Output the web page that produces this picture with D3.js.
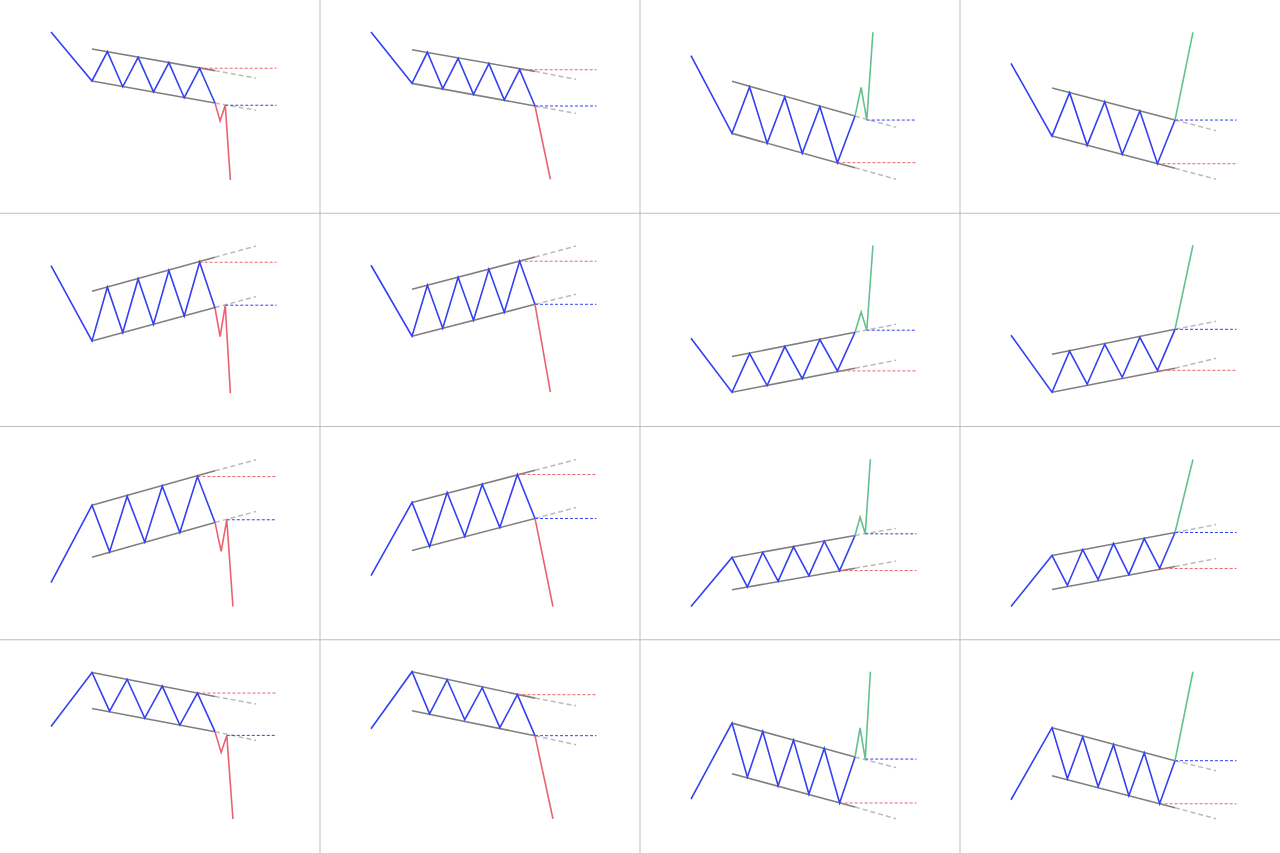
<!DOCTYPE html>
<html>
<head>
<meta charset="utf-8">
<script src="https://cdn.jsdelivr.net/npm/d3@7"></script>
<style>
  body { margin: 0; background: #fff; }
  svg { display: block; }
</style>
</head>
<body>
<svg id="chart"></svg>
<script>
// x positions of the swing points (8 or 7 swings inside the channel)
var xs8 = [0, 8, 11, 14, 17, 20, 23, 26, 29, 32];
var xs7 = [0, 8, 11.43, 14.86, 18.29, 21.71, 25.14, 28.57, 32];

// swing prices, one list per panel (row by row)
var swings = [
    [100, 66.9, 86.7, 63.0, 82.9, 59.5, 79.3, 55.6, 75.5, 52.0],
    [100, 65.3, 86.3, 61.7, 82.2, 57.9, 78.6, 54.1, 74.5, 50.0],
    [84.0, 31.5, 62.8, 24.8, 56.1, 18.0, 49.5, 11.7, 43.2],
    [78.8, 29.7, 59.0, 23.4, 52.9, 17.4, 46.6, 11.0, 40.5],
    [86.3, 35.3, 71.6, 41.0, 77.2, 46.6, 82.9, 52.2, 88.5, 57.6],
    [86.5, 38.5, 73.0, 43.9, 78.4, 49.3, 83.8, 54.7, 89.2, 60.1],
    [37.2, 0.7, 26.8, 5.2, 31.5, 9.9, 36.3, 15.1, 41.2],
    [39.2, 0.7, 28.4, 6.1, 33.1, 10.8, 37.8, 15.5, 43.2],
    [16.2, 68.4, 37.0, 74.5, 43.5, 81.3, 50.0, 87.8, 56.8],
    [20.9, 70.3, 40.5, 77.0, 47.3, 82.4, 53.4, 89.2, 59.5],
    [0, 33.1, 13.3, 36.5, 17.1, 40.3, 20.9, 44.1, 24.3, 48.0],
    [0, 34.5, 14.2, 38.5, 18.2, 42.6, 21.6, 45.9, 25.7, 50.0],
    [63.0, 99.5, 73.4, 94.8, 68.7, 90.3, 64.0, 85.6, 59.5],
    [61.5, 100, 71.6, 94.6, 67.6, 89.2, 62.2, 84.5, 56.8],
    [14.0, 65.3, 28.8, 59.7, 23.0, 53.8, 17.4, 48.2, 11.3, 42.4],
    [13.5, 62.2, 27.7, 56.1, 22.3, 50.7, 16.2, 45.3, 10.8, 39.9]
];

// breakout move after the channel (with or without a retest)
var breakouts = [
    [39.9, 50.5, 0], [0.5], [62.6, 40.5, 99.8], [99.8],
    [38.3, 59.5, 0], [0.7], [54.9, 42.6, 99.8], [100],
    [37.2, 58.6, 0], [0], [60.4, 49.1, 99.5], [99.3],
    [45.5, 57.0, 0.5], [0.7], [62.0, 41.0, 100], [100]
];
var retestX8 = [33, 34, 35];
var retestX7 = [33.2, 34.3, 35.5];

// channel lines: value at x=8, x=32 and end of the projection x=40
var upperLines = [
    [88.5, 73.9, 68.8], [88.0, 73.4, 68.0], [66.7, 43.2, 35.6], [62.2, 40.5, 33.3],
    [68.9, 91.9, 99.5], [70.3, 92.0, 99.5], [24.8, 41.2, 46.6], [26.4, 43.2, 48.6],
    [68.4, 91.7, 99.1], [70.3, 92.0, 99.3], [33.1, 48.0, 52.7], [34.5, 50.0, 55.4],
    [99.5, 83.3, 78.2], [100, 82.2, 77.0], [65.3, 42.4, 35.3], [62.2, 39.9, 33.1]
];
var lowerLines = [
    [66.9, 52.0, 47.2], [65.3, 50.0, 45.0], [31.5, 8.3, 0.5], [29.7, 7.9, 0.5],
    [35.3, 57.9, 65.3], [38.5, 60.1, 66.9], [0.7, 16.9, 22.3], [0.7, 16.9, 23.6],
    [33.3, 56.8, 64.2], [37.8, 59.5, 66.9], [11.3, 25.9, 30.6], [11.5, 27.0, 32.4],
    [75.2, 59.5, 53.6], [73.6, 56.8, 50.7], [31.1, 8.6, 0.7], [29.7, 8.1, 0.7]
];
var lineX = [8, 32, 40];
var levelEnd = 44;

var W = 1280, H = 853, cols = 4, rows = 4;
var cellW = W / cols, cellH = H / rows;

var blue = "#3341f2", red = "#ea6270", green = "#63c08f";

var svg = d3.select("#chart").attr("width", W).attr("height", H);

var x = d3.scaleLinear().domain([0, 44]).range([51, 276.5]);
var y = d3.scaleLinear().domain([0, 100]).range([180, 32]);

var line = d3.line()
    .x(function(d){ return x(d[0]); })
    .y(function(d){ return y(d[1]); });

// cell borders
for (var c = 1; c < cols; c++) {
    svg.append("line")
        .attr("x1", c * cellW).attr("x2", c * cellW)
        .attr("y1", 0).attr("y2", H)
        .attr("stroke", "#bdbdbd").attr("stroke-width", 1);
}
for (var r = 1; r < rows; r++) {
    svg.append("line")
        .attr("x1", 0).attr("x2", W)
        .attr("y1", r * cellH).attr("y2", r * cellH)
        .attr("stroke", "#bdbdbd").attr("stroke-width", 1);
}

swings.forEach(function(zig, i){
    var col = i % cols, row = Math.floor(i / cols);
    var g = svg.append("g")
        .attr("transform", "translate(" + (col * cellW) + "," + (row * cellH) + ")");

    var xs = zig.length == 10 ? xs8 : xs7;
    var n = zig.length;
    var brk = breakouts[i];
    var retest = brk.length == 3;
    var bx = retest ? (n == 10 ? retestX8 : retestX7) : [n == 10 && col == 1 ? 35 : 35.5];
    var up = col >= 2;

    [upperLines[i], lowerLines[i]].forEach(function(ln){
        // projected part
        g.append("path")
            .attr("d", line([[lineX[1], ln[1]], [lineX[2], ln[2]]]))
            .attr("fill", "none")
            .attr("stroke", "#bbbbbb")
            .attr("stroke-width", 1.5)
            .attr("stroke-dasharray", "5,3");
        // channel
        g.append("path")
            .attr("d", line([[lineX[0], ln[0]], [lineX[1], ln[1]]]))
            .attr("fill", "none")
            .attr("stroke", "#7f7f7f")
            .attr("stroke-width", 1.6);
    });

    // stop level: last swing before the break
    g.append("path")
        .attr("d", line([[xs[n-2], zig[n-2]], [levelEnd, zig[n-2]]]))
        .attr("fill", "none")
        .attr("stroke", red)
        .attr("stroke-width", 1)
        .attr("stroke-dasharray", "3,2");

    // entry level: retest point or breakout point
    var entry = retest ? [bx[1], brk[1]] : [xs[n-1], zig[n-1]];
    g.append("path")
        .attr("d", line([entry, [levelEnd, entry[1]]]))
        .attr("fill", "none")
        .attr("stroke", blue)
        .attr("stroke-width", 1)
        .attr("stroke-dasharray", "3,2");

    // price inside the channel
    g.append("path")
        .attr("d", line(zig.map(function(v, k){ return [xs[k], v]; })))
        .attr("fill", "none")
        .attr("stroke", blue)
        .attr("stroke-width", 1.6)
        .attr("stroke-linejoin", "miter");

    // breakout
    var bpts = [[xs[n-1], zig[n-1]]].concat(brk.map(function(v, k){ return [bx[k], v]; }));
    g.append("path")
        .attr("d", line(bpts))
        .attr("fill", "none")
        .attr("stroke", up ? green : red)
        .attr("stroke-width", 1.6);
});
</script>
</body>
</html>
